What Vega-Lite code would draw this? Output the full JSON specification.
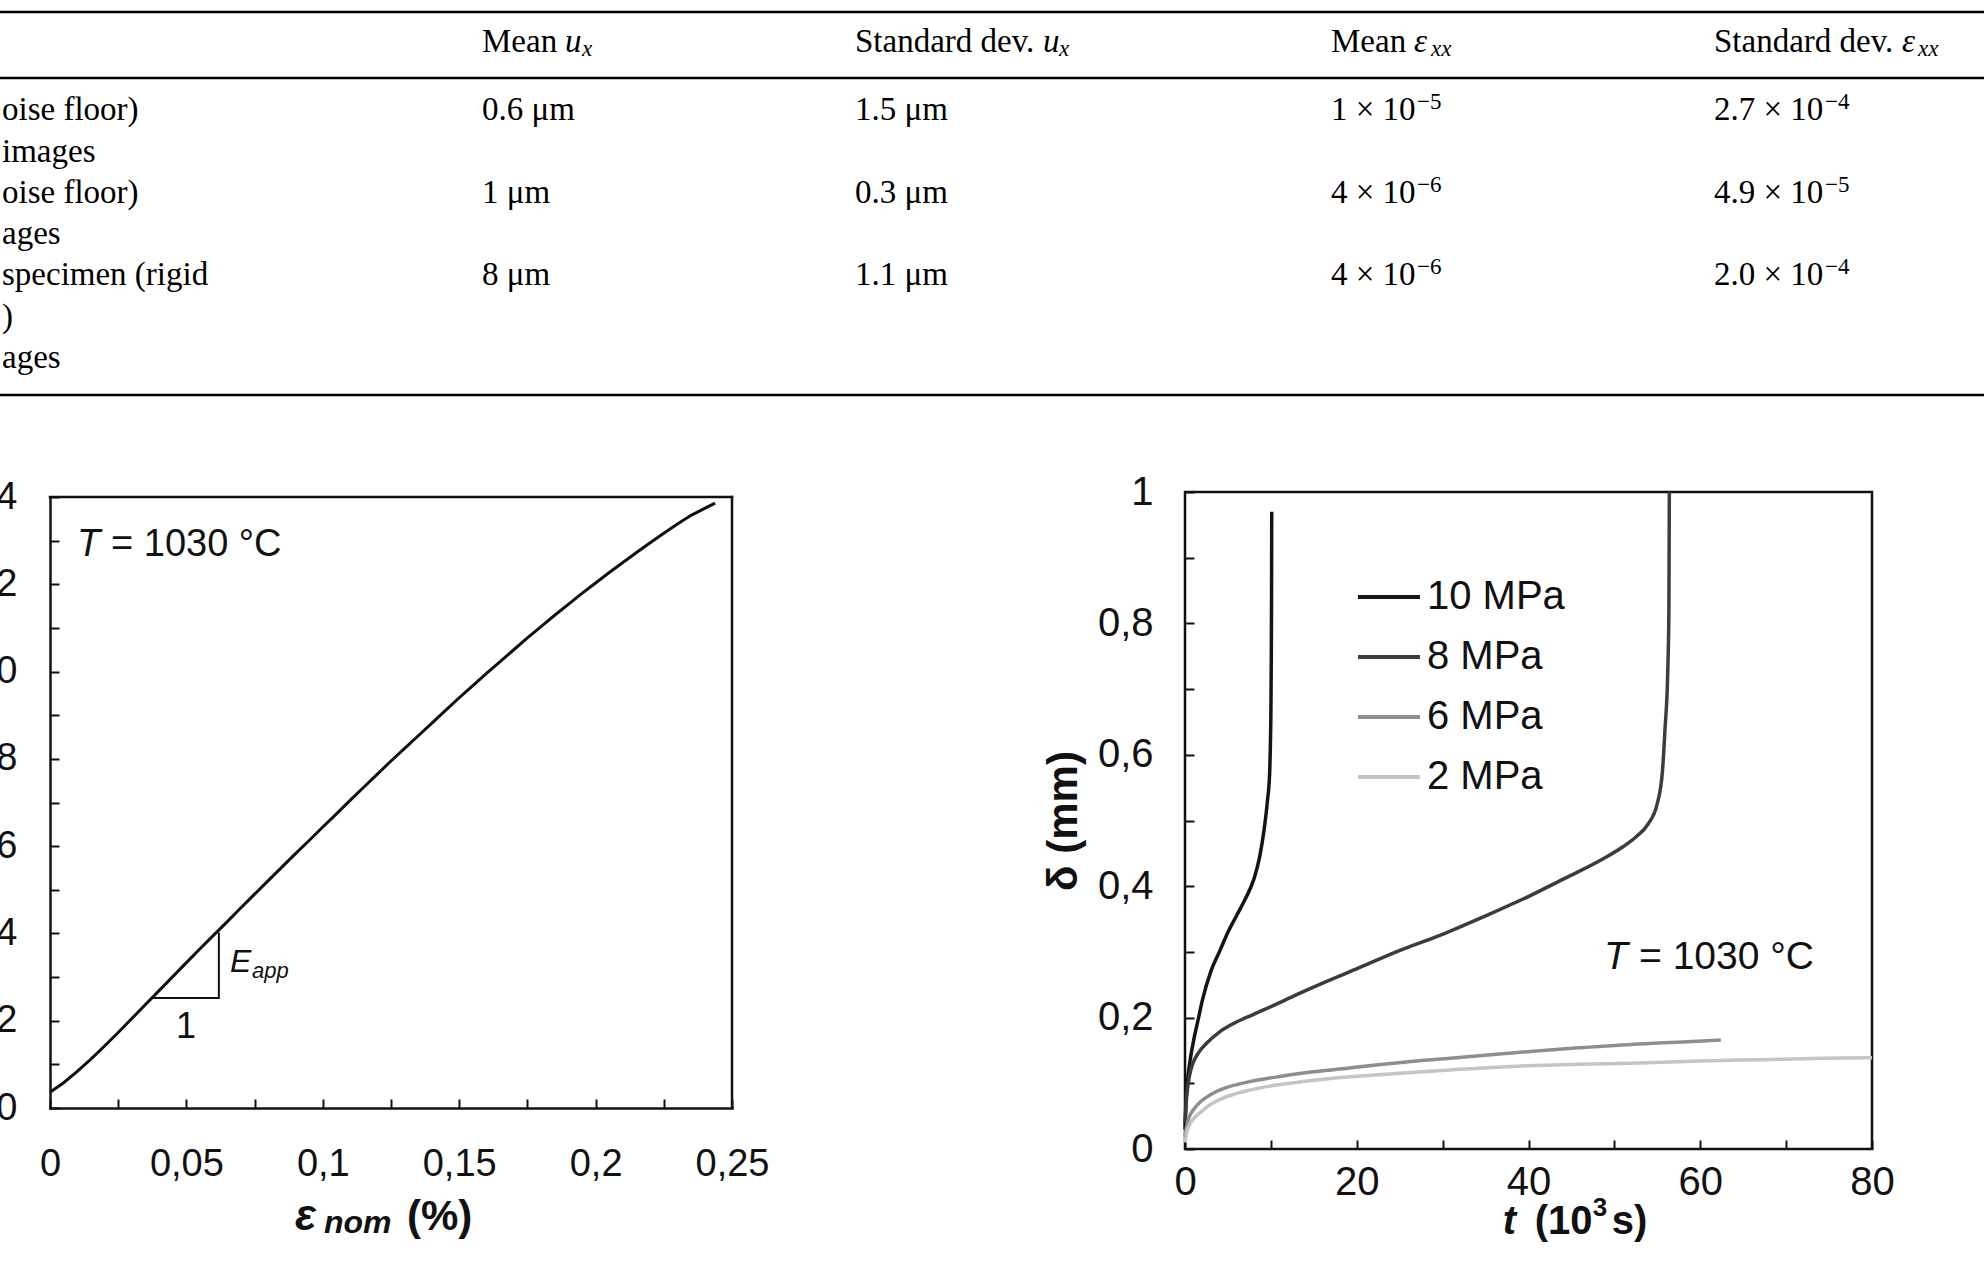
{
"$schema": "https://vega.github.io/schema/vega-lite/v6.json",
"background": "white",
"autosize": {"type": "none"},
"padding": {"left": 0, "top": 7, "right": 1984, "bottom": 1279},
"bounds": "flush",
"spacing": 72,
"config": {
  "view": {"stroke": null},
  "axis": {"grid": false, "labelFont": "Liberation Sans", "titleFont": "Liberation Sans", "labelColor": "#111", "titleColor": "#111", "tickColor": "#111", "domainColor": "#111", "labelFlush": false, "labelOverlap": false, "tickWidth": 2},
  "text": {"font": "Liberation Sans", "color": "#111"}
},
"datasets": {
  "cells": [
    {"line": 1, "col": 0, "text": "oise floor)"},
    {"line": 2, "col": 0, "text": "\u00a0images"},
    {"line": 3, "col": 0, "text": "oise floor)"},
    {"line": 4, "col": 0, "text": "ages"},
    {"line": 5, "col": 0, "text": "specimen (rigid"},
    {"line": 6, "col": 0, "text": ")"},
    {"line": 7, "col": 0, "text": "ages"},
    {"line": 1, "col": 1, "text": "0.6 μm"},
    {"line": 1, "col": 2, "text": "1.5 μm"},
    {"line": 1, "col": 3, "text": "1 × 10", "exp": "−5"},
    {"line": 1, "col": 4, "text": "2.7 × 10", "exp": "−4"},
    {"line": 3, "col": 1, "text": "1 μm"},
    {"line": 3, "col": 2, "text": "0.3 μm"},
    {"line": 3, "col": 3, "text": "4 × 10", "exp": "−6"},
    {"line": 3, "col": 4, "text": "4.9 × 10", "exp": "−5"},
    {"line": 5, "col": 1, "text": "8 μm"},
    {"line": 5, "col": 2, "text": "1.1 μm"},
    {"line": 5, "col": 3, "text": "4 × 10", "exp": "−6"},
    {"line": 5, "col": 4, "text": "2.0 × 10", "exp": "−4"}
  ],
  "head": [
    {"line": 0, "col": 1, "label": "Mean", "sym": "u", "sub": "x", "kind": "m"},
    {"line": 0, "col": 2, "label": "Standard dev.", "sym": "u", "sub": "x", "kind": "s"},
    {"line": 0, "col": 3, "label": "Mean", "sym": "ε", "sub": "xx", "kind": "m"},
    {"line": 0, "col": 4, "label": "Standard dev.", "sym": "ε", "sub": "xx", "kind": "s"}
  ],
  "strain": [
    {"e": 0, "s": 0.36}, {"e": 0.005, "s": 0.58}, {"e": 0.01, "s": 0.84}, {"e": 0.015, "s": 1.12},
    {"e": 0.02, "s": 1.42}, {"e": 0.025, "s": 1.73}, {"e": 0.03, "s": 2.05}, {"e": 0.035, "s": 2.37},
    {"e": 0.04, "s": 2.69}, {"e": 0.045, "s": 3.01}, {"e": 0.05, "s": 3.33}, {"e": 0.055, "s": 3.65},
    {"e": 0.06, "s": 3.96}, {"e": 0.065, "s": 4.27}, {"e": 0.07, "s": 4.59}, {"e": 0.075, "s": 4.9},
    {"e": 0.08, "s": 5.21}, {"e": 0.085, "s": 5.52}, {"e": 0.09, "s": 5.83}, {"e": 0.095, "s": 6.13},
    {"e": 0.1, "s": 6.44}, {"e": 0.105, "s": 6.74}, {"e": 0.11, "s": 7.05}, {"e": 0.115, "s": 7.35},
    {"e": 0.12, "s": 7.65}, {"e": 0.125, "s": 7.95}, {"e": 0.13, "s": 8.24}, {"e": 0.135, "s": 8.53},
    {"e": 0.14, "s": 8.82}, {"e": 0.145, "s": 9.11}, {"e": 0.15, "s": 9.4}, {"e": 0.155, "s": 9.68},
    {"e": 0.16, "s": 9.96}, {"e": 0.165, "s": 10.23}, {"e": 0.17, "s": 10.5}, {"e": 0.175, "s": 10.77},
    {"e": 0.18, "s": 11.03}, {"e": 0.185, "s": 11.29}, {"e": 0.19, "s": 11.54}, {"e": 0.195, "s": 11.79},
    {"e": 0.2, "s": 12.03}, {"e": 0.205, "s": 12.27}, {"e": 0.21, "s": 12.5}, {"e": 0.215, "s": 12.73},
    {"e": 0.22, "s": 12.95}, {"e": 0.225, "s": 13.17}, {"e": 0.23, "s": 13.38}, {"e": 0.235, "s": 13.58},
    {"e": 0.24, "s": 13.74}, {"e": 0.2438, "s": 13.86}
  ],
  "tri": [
    {"e": 0.0374, "s": 2.52, "o": 0}, {"e": 0.0619, "s": 2.52, "o": 1}, {"e": 0.0619, "s": 4.02, "o": 2}
  ],
  "creep": [
    {"p": "10 MPa", "t": 0, "d": 0.03}, {"p": "10 MPa", "t": 0.1, "d": 0.07}, {"p": "10 MPa", "t": 0.3, "d": 0.105},
    {"p": "10 MPa", "t": 0.6, "d": 0.135}, {"p": "10 MPa", "t": 1.0, "d": 0.165}, {"p": "10 MPa", "t": 1.5, "d": 0.195},
    {"p": "10 MPa", "t": 2.0, "d": 0.225}, {"p": "10 MPa", "t": 3.0, "d": 0.27}, {"p": "10 MPa", "t": 4.0, "d": 0.3},
    {"p": "10 MPa", "t": 5.0, "d": 0.33}, {"p": "10 MPa", "t": 6.0, "d": 0.355}, {"p": "10 MPa", "t": 7.0, "d": 0.38},
    {"p": "10 MPa", "t": 8.0, "d": 0.41}, {"p": "10 MPa", "t": 8.7, "d": 0.445}, {"p": "10 MPa", "t": 9.2, "d": 0.485},
    {"p": "10 MPa", "t": 9.6, "d": 0.53}, {"p": "10 MPa", "t": 9.85, "d": 0.57}, {"p": "10 MPa", "t": 9.95, "d": 0.62},
    {"p": "10 MPa", "t": 10.0, "d": 0.66}, {"p": "10 MPa", "t": 10.05, "d": 0.75}, {"p": "10 MPa", "t": 10.08, "d": 0.85},
    {"p": "10 MPa", "t": 10.1, "d": 0.97},
    {"p": "8 MPa", "t": 0, "d": 0.04}, {"p": "8 MPa", "t": 0.2, "d": 0.08}, {"p": "8 MPa", "t": 0.5, "d": 0.11},
    {"p": "8 MPa", "t": 0.85, "d": 0.128}, {"p": "8 MPa", "t": 1.5, "d": 0.145}, {"p": "8 MPa", "t": 2.6, "d": 0.162},
    {"p": "8 MPa", "t": 4.0, "d": 0.178}, {"p": "8 MPa", "t": 5.5, "d": 0.19}, {"p": "8 MPa", "t": 8.0, "d": 0.205},
    {"p": "8 MPa", "t": 10.4, "d": 0.219}, {"p": "8 MPa", "t": 13, "d": 0.235}, {"p": "8 MPa", "t": 16.1, "d": 0.253},
    {"p": "8 MPa", "t": 20.3, "d": 0.276}, {"p": "8 MPa", "t": 24.6, "d": 0.3}, {"p": "8 MPa", "t": 30.2, "d": 0.328},
    {"p": "8 MPa", "t": 35.2, "d": 0.356}, {"p": "8 MPa", "t": 40.1, "d": 0.385}, {"p": "8 MPa", "t": 44.4, "d": 0.413},
    {"p": "8 MPa", "t": 48.6, "d": 0.441}, {"p": "8 MPa", "t": 51.0, "d": 0.46}, {"p": "8 MPa", "t": 52.5, "d": 0.475},
    {"p": "8 MPa", "t": 53.9, "d": 0.494}, {"p": "8 MPa", "t": 55.0, "d": 0.526}, {"p": "8 MPa", "t": 55.6, "d": 0.575},
    {"p": "8 MPa", "t": 55.9, "d": 0.64}, {"p": "8 MPa", "t": 56.2, "d": 0.72}, {"p": "8 MPa", "t": 56.35, "d": 0.82},
    {"p": "8 MPa", "t": 56.4, "d": 1.0},
    {"p": "6 MPa", "t": 0, "d": 0.02}, {"p": "6 MPa", "t": 0.2, "d": 0.035}, {"p": "6 MPa", "t": 0.5, "d": 0.049},
    {"p": "6 MPa", "t": 1.0, "d": 0.06}, {"p": "6 MPa", "t": 1.9, "d": 0.073}, {"p": "6 MPa", "t": 3.0, "d": 0.083},
    {"p": "6 MPa", "t": 4.7, "d": 0.093}, {"p": "6 MPa", "t": 7.0, "d": 0.101}, {"p": "6 MPa", "t": 10.4, "d": 0.109},
    {"p": "6 MPa", "t": 14, "d": 0.116}, {"p": "6 MPa", "t": 17.5, "d": 0.121}, {"p": "6 MPa", "t": 24.6, "d": 0.131},
    {"p": "6 MPa", "t": 31.6, "d": 0.139}, {"p": "6 MPa", "t": 38.7, "d": 0.147}, {"p": "6 MPa", "t": 45.8, "d": 0.154},
    {"p": "6 MPa", "t": 52.9, "d": 0.16}, {"p": "6 MPa", "t": 58, "d": 0.163}, {"p": "6 MPa", "t": 62.4, "d": 0.166},
    {"p": "2 MPa", "t": 0, "d": 0.01}, {"p": "2 MPa", "t": 0.2, "d": 0.025}, {"p": "2 MPa", "t": 0.5, "d": 0.036},
    {"p": "2 MPa", "t": 1.0, "d": 0.046}, {"p": "2 MPa", "t": 1.9, "d": 0.057}, {"p": "2 MPa", "t": 3.0, "d": 0.068},
    {"p": "2 MPa", "t": 4.7, "d": 0.079}, {"p": "2 MPa", "t": 7.0, "d": 0.088}, {"p": "2 MPa", "t": 10.4, "d": 0.097},
    {"p": "2 MPa", "t": 14, "d": 0.103}, {"p": "2 MPa", "t": 17.5, "d": 0.108}, {"p": "2 MPa", "t": 24.6, "d": 0.115},
    {"p": "2 MPa", "t": 31.6, "d": 0.121}, {"p": "2 MPa", "t": 38.7, "d": 0.126}, {"p": "2 MPa", "t": 45.8, "d": 0.129},
    {"p": "2 MPa", "t": 52.9, "d": 0.131}, {"p": "2 MPa", "t": 60, "d": 0.134}, {"p": "2 MPa", "t": 67, "d": 0.136},
    {"p": "2 MPa", "t": 74, "d": 0.138}, {"p": "2 MPa", "t": 80, "d": 0.139}
  ]
},
"vconcat": [
  {
    "width": 1984, "height": 413,
    "layer": [
      {"data": {"name": "cells"},
       "mark": {"type": "text", "align": "left", "baseline": "middle", "font": "Liberation Serif", "fontSize": 33, "color": "#000"},
       "encoding": {
         "x": {"field": "col", "type": "quantitative", "scale": {"domain": [0, 1, 2, 3, 4], "range": [2, 482, 855, 1331, 1714]}, "axis": null},
         "y": {"field": "line", "type": "quantitative", "scale": {"domain": [-1.5, 8.5], "reverse": true, "nice": false, "zero": false}, "axis": null},
         "text": {"field": "text"}}},
      {"data": {"name": "cells"}, "transform": [{"filter": "datum.col == 3"}],
       "mark": {"type": "text", "align": "left", "baseline": "middle", "font": "Liberation Serif", "fontSize": 23, "dx": 86, "dy": -8, "color": "#000"},
       "encoding": {"x": {"field": "col", "type": "quantitative", "axis": null}, "y": {"field": "line", "type": "quantitative", "axis": null}, "text": {"field": "exp"}}},
      {"data": {"name": "cells"}, "transform": [{"filter": "datum.col == 4"}],
       "mark": {"type": "text", "align": "left", "baseline": "middle", "font": "Liberation Serif", "fontSize": 23, "dx": 111, "dy": -8, "color": "#000"},
       "encoding": {"x": {"field": "col", "type": "quantitative", "axis": null}, "y": {"field": "line", "type": "quantitative", "axis": null}, "text": {"field": "exp"}}},
      {"data": {"name": "head"},
       "mark": {"type": "text", "align": "left", "baseline": "middle", "font": "Liberation Serif", "fontSize": 33, "dy": -27, "color": "#000"},
       "encoding": {"x": {"field": "col", "type": "quantitative", "axis": null}, "y": {"field": "line", "type": "quantitative", "axis": null}, "text": {"field": "label"}}},
      {"data": {"name": "head"}, "transform": [{"filter": "datum.kind == 'm'"}],
       "mark": {"type": "text", "align": "left", "baseline": "middle", "font": "Liberation Serif", "fontStyle": "italic", "fontSize": 33, "dx": 83, "dy": -27, "color": "#000"},
       "encoding": {"x": {"field": "col", "type": "quantitative", "axis": null}, "y": {"field": "line", "type": "quantitative", "axis": null}, "text": {"field": "sym"}}},
      {"data": {"name": "head"}, "transform": [{"filter": "datum.kind == 's'"}],
       "mark": {"type": "text", "align": "left", "baseline": "middle", "font": "Liberation Serif", "fontStyle": "italic", "fontSize": 33, "dx": 188, "dy": -27, "color": "#000"},
       "encoding": {"x": {"field": "col", "type": "quantitative", "axis": null}, "y": {"field": "line", "type": "quantitative", "axis": null}, "text": {"field": "sym"}}},
      {"data": {"name": "head"}, "transform": [{"filter": "datum.kind == 'm'"}],
       "mark": {"type": "text", "align": "left", "baseline": "middle", "font": "Liberation Serif", "fontStyle": "italic", "fontSize": 23, "dx": 100, "dy": -20, "color": "#000"},
       "encoding": {"x": {"field": "col", "type": "quantitative", "axis": null}, "y": {"field": "line", "type": "quantitative", "axis": null}, "text": {"field": "sub"}}},
      {"data": {"name": "head"}, "transform": [{"filter": "datum.kind == 's'"}],
       "mark": {"type": "text", "align": "left", "baseline": "middle", "font": "Liberation Serif", "fontStyle": "italic", "fontSize": 23, "dx": 204, "dy": -20, "color": "#000"},
       "encoding": {"x": {"field": "col", "type": "quantitative", "axis": null}, "y": {"field": "line", "type": "quantitative", "axis": null}, "text": {"field": "sub"}}},
      {"data": {"values": [{}]}, "mark": {"type": "rule", "color": "#000", "strokeWidth": 2.5},
       "encoding": {"y": {"datum": -1.379, "type": "quantitative", "axis": null}}},
      {"data": {"values": [{}]}, "mark": {"type": "rule", "color": "#000", "strokeWidth": 2.5},
       "encoding": {"y": {"datum": 0.219, "type": "quantitative", "axis": null}}},
      {"data": {"values": [{}]}, "mark": {"type": "rule", "color": "#000", "strokeWidth": 2.5},
       "encoding": {"y": {"datum": 7.895, "type": "quantitative", "axis": null}}}
    ]
  },
  {
    "spacing": 0,
    "bounds": "flush",
    "hconcat": [
      {"width": 50, "height": 10, "data": {"values": []}, "mark": "point"},
      {
        "width": 682, "height": 616,
        "layer": [
          {"data": {"name": "strain"}, "mark": {"type": "line", "color": "#111", "strokeWidth": 3},
           "encoding": {
             "x": {"field": "e", "type": "quantitative", "scale": {"domain": [0, 0.25], "nice": false, "zero": false},
                   "axis": {"values": [0, 0.025, 0.05, 0.075, 0.1, 0.125, 0.15, 0.175, 0.2, 0.225, 0.25], "format": "~g",
                            "labelExpr": "round(datum.value*1000) % 50 == 0 ? replace(datum.label, '.', ',') : ''",
                            "tickSize": -9, "domain": true, "domainWidth": 2.5, "domainCap": "square", "labelFontSize": 38, "labelPadding": 46, "title": null}},
             "y": {"field": "s", "type": "quantitative", "scale": {"domain": [0, 14], "range": [616, 5], "nice": false, "zero": false},
                   "axis": {"values": [0, 1, 2, 3, 4, 5, 6, 7, 8, 9, 10, 11, 12, 13, 14],
                            "labelExpr": "datum.value % 2 == 0 ? datum.label : ''",
                            "tickSize": -9, "domain": true, "domainWidth": 2.5, "domainCap": "square", "labelFontSize": 38, "labelPadding": 42, "title": null}}
           }},
          {"data": {"name": "tri"}, "mark": {"type": "line", "color": "#111", "strokeWidth": 2},
           "encoding": {"x": {"field": "e", "type": "quantitative"}, "y": {"field": "s", "type": "quantitative"}, "order": {"field": "o"}}},
          {"data": {"values": [{}]}, "mark": {"type": "rule", "color": "#111", "strokeWidth": 2.5, "strokeCap": "square"},
           "encoding": {"y": {"datum": 14}}},
          {"data": {"values": [{}]}, "mark": {"type": "rule", "color": "#111", "strokeWidth": 2.5, "strokeCap": "square"},
           "encoding": {"x": {"datum": 0.25}, "y": {"datum": 0}, "y2": {"datum": 14}}},
          {"data": {"values": [{}]}, "mark": {"type": "text", "text": "T", "fontStyle": "italic", "fontSize": 38, "align": "left", "baseline": "middle"},
           "encoding": {"x": {"datum": 0.0099}, "y": {"datum": 12.9}}},
          {"data": {"values": [{}]}, "mark": {"type": "text", "text": "= 1030 °C", "fontSize": 38, "align": "left", "baseline": "middle", "dx": 34},
           "encoding": {"x": {"datum": 0.0099}, "y": {"datum": 12.9}}},
          {"data": {"values": [{}]}, "mark": {"type": "text", "text": "1", "fontSize": 36, "align": "center", "baseline": "middle"},
           "encoding": {"x": {"datum": 0.0499}, "y": {"datum": 1.86}}},
          {"data": {"values": [{}]}, "mark": {"type": "text", "text": "E", "fontStyle": "italic", "fontSize": 32, "align": "left", "baseline": "middle"},
           "encoding": {"x": {"datum": 0.066}, "y": {"datum": 3.35}}},
          {"data": {"values": [{}]}, "mark": {"type": "text", "text": "app", "fontStyle": "italic", "fontSize": 22, "align": "left", "baseline": "middle", "dx": 22, "dy": 9},
           "encoding": {"x": {"datum": 0.066}, "y": {"datum": 3.35}}},
          {"data": {"values": [{}]}, "mark": {"type": "text", "text": "ε", "fontStyle": "italic", "fontWeight": "bold", "fontSize": 44, "align": "left", "baseline": "middle"},
           "encoding": {"x": {"datum": 0.0898}, "y": {"datum": -2.5}}},
          {"data": {"values": [{}]}, "mark": {"type": "text", "text": "nom", "fontStyle": "italic", "fontWeight": "bold", "fontSize": 32, "align": "left", "baseline": "middle", "dx": 29, "dy": 6},
           "encoding": {"x": {"datum": 0.0898}, "y": {"datum": -2.5}}},
          {"data": {"values": [{}]}, "mark": {"type": "text", "text": "(%)", "fontWeight": "bold", "fontSize": 42, "align": "left", "baseline": "middle", "dx": 112},
           "encoding": {"x": {"datum": 0.0898}, "y": {"datum": -2.5}}}
        ]
      },
      {"width": 453, "height": 10, "data": {"values": []}, "mark": "point"},
      {
        "width": 687, "height": 657,
        "view": {"stroke": "#111", "strokeWidth": 2.5},
        "layer": [
          {"data": {"name": "creep"}, "mark": {"type": "line", "strokeWidth": 3.5, "interpolate": "monotone"},
           "encoding": {
             "x": {"field": "t", "type": "quantitative", "scale": {"domain": [0, 80], "nice": false, "zero": false},
                   "axis": {"values": [0, 10, 20, 30, 40, 50, 60, 70, 80],
                            "labelExpr": "datum.value % 20 == 0 ? datum.label : ''",
                            "tickSize": -9, "domain": false, "labelFontSize": 40, "labelPadding": 22, "title": null}},
             "y": {"field": "d", "type": "quantitative", "scale": {"domain": [0, 1], "nice": false, "zero": false},
                   "axis": {"values": [0, 0.1, 0.2, 0.3, 0.4, 0.5, 0.6, 0.7, 0.8, 0.9, 1], "format": "~g",
                            "labelExpr": "round(datum.value*10) % 2 == 0 ? replace(datum.label, '.', ',') : ''",
                            "tickSize": -9, "domain": false, "labelFontSize": 40, "labelPadding": 41,
                            "title": "δ (mm)", "titleFontSize": 42, "titleFontWeight": "bold", "titlePadding": 12}},
             "color": {"field": "p", "type": "nominal",
                       "scale": {"domain": ["10 MPa", "8 MPa", "6 MPa", "2 MPa"], "range": ["#141414", "#3c3c3c", "#8e8e8e", "#c4c4c4"]},
                       "legend": {"orient": "none", "legendX": 1356, "legendY": 557, "title": null, "symbolType": "stroke", "symbolSize": 3844,
                                  "symbolStrokeWidth": 4, "labelFontSize": 40, "labelFont": "Liberation Sans", "labelColor": "#111",
                                  "labelOffset": 5, "rowPadding": 7, "padding": 0}}
           }},
          {"data": {"values": [{}]}, "mark": {"type": "text", "text": "T", "fontStyle": "italic", "fontSize": 39, "align": "left", "baseline": "middle"},
           "encoding": {"x": {"datum": 48.8}, "y": {"datum": 0.292}}},
          {"data": {"values": [{}]}, "mark": {"type": "text", "text": "= 1030 °C", "fontSize": 39, "align": "left", "baseline": "middle", "dx": 35},
           "encoding": {"x": {"datum": 48.8}, "y": {"datum": 0.292}}},
          {"data": {"values": [{}]}, "mark": {"type": "text", "text": "t", "fontStyle": "italic", "fontWeight": "bold", "fontSize": 40, "align": "left", "baseline": "middle"},
           "encoding": {"x": {"datum": 37}, "y": {"datum": -0.111}}},
          {"data": {"values": [{}]}, "mark": {"type": "text", "text": "(10", "fontWeight": "bold", "fontSize": 40, "align": "left", "baseline": "middle", "dx": 32},
           "encoding": {"x": {"datum": 37}, "y": {"datum": -0.111}}},
          {"data": {"values": [{}]}, "mark": {"type": "text", "text": "3", "fontWeight": "bold", "fontSize": 26, "align": "left", "baseline": "middle", "dx": 90, "dy": -14},
           "encoding": {"x": {"datum": 37}, "y": {"datum": -0.111}}},
          {"data": {"values": [{}]}, "mark": {"type": "text", "text": "s)", "fontWeight": "bold", "fontSize": 40, "align": "left", "baseline": "middle", "dx": 109},
           "encoding": {"x": {"datum": 37}, "y": {"datum": -0.111}}}
        ]
      }
    ]
  }
]
}
